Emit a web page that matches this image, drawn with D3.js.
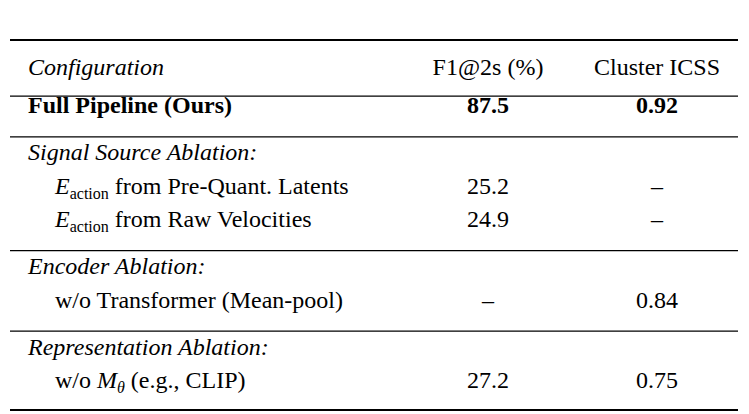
<!DOCTYPE html>
<html><head><meta charset="utf-8">
<script src="https://cdn.jsdelivr.net/npm/d3@7"></script>
<style>body{margin:0;background:#fff} text{font-family:"Liberation Serif","DejaVu Serif",serif;}</style></head>
<body><svg id="c" width="749" height="414"></svg>
<script>
const headers = ["Configuration", "F1@2s (%)", "Cluster ICSS"];
const rowLabels = ["Full Pipeline (Ours)", "Signal Source Ablation:", "E|action| from Pre-Quant. Latents", "E|action| from Raw Velocities",
  "Encoder Ablation:", "w/o Transformer (Mean-pool)", "Representation Ablation:", "w/o M|θ| (e.g., CLIP)"];
const rowKinds = ["bold", "section", "item", "item", "section", "item", "section", "item"];
const f1Values = ["87.5", "", "25.2", "24.9", "", "–", "", "27.2"];
const icssValues = ["0.92", "", "–", "–", "", "0.84", "", "0.75"];
const groupStarts = [0, 1, 4, 6];

const svg = d3.select("#c");
const FS = 24;
const x = d3.scaleOrdinal().domain(headers).range([28, 488, 657]);
const units = [0]; let u = 0;
rowLabels.forEach((d, i) => { u += 1 + (i === 0 ? 0.15 : groupStarts.includes(i) ? 0.42 : 0); units.push(u); });
const y = d3.scaleLinear().domain([0, units[units.length - 1]]).range([75, 388]);

function addText(g, s) {
  const parts = s.split("|");
  let pendingDy = 0;
  parts.forEach((p, k) => {
    if (k % 2 === 1) {
      g.append("tspan").attr("font-size", 16).attr("dy", 5).attr("font-style", p === "θ" ? "italic" : "normal").text(p);
      pendingDy = -5;
    } else if (k === 0 && parts.length > 1) {
      const pre = p.slice(0, -1);
      if (pre) g.append("tspan").text(pre);
      g.append("tspan").attr("font-style", "italic").text(p.slice(-1));
    } else {
      g.append("tspan").attr("dy", pendingDy).text(p);
      pendingDy = 0;
    }
  });
}

headers.forEach((h, i) => {
  svg.append("text").attr("x", x(h)).attr("y", y(units[0]))
    .attr("text-anchor", i === 0 ? "start" : "middle")
    .attr("font-size", FS).attr("font-style", i === 0 ? "italic" : "normal").text(h);
});

rowLabels.forEach((lab, i) => {
  const yy = y(units[i + 1]);
  const k = rowKinds[i];
  const t = svg.append("text").attr("x", k === "item" ? 55 : x(headers[0])).attr("y", yy)
    .attr("font-size", FS)
    .attr("font-weight", k === "bold" ? "bold" : "normal")
    .attr("font-style", k === "section" ? "italic" : "normal");
  addText(t, lab);
  [f1Values[i], icssValues[i]].forEach((v, j) => {
    if (!v) return;
    svg.append("text").attr("x", x(headers[j + 1])).attr("y", yy).attr("text-anchor", "middle")
      .attr("font-size", FS).attr("font-weight", k === "bold" ? "bold" : "normal").text(v);
  });
});

const line = (yy, w) => svg.append("line").attr("x1", 10).attr("x2", 738).attr("y1", yy).attr("y2", yy)
  .attr("stroke", "#000").attr("stroke-width", w);
line(40, 2.2);
groupStarts.forEach((gs) => {
  const mid = (y(units[gs]) + y(units[gs + 1])) / 2;
  line(gs === 0 ? mid + 2 : mid, 1.2);
});
line(410, 2.2);
</script></body></html>
